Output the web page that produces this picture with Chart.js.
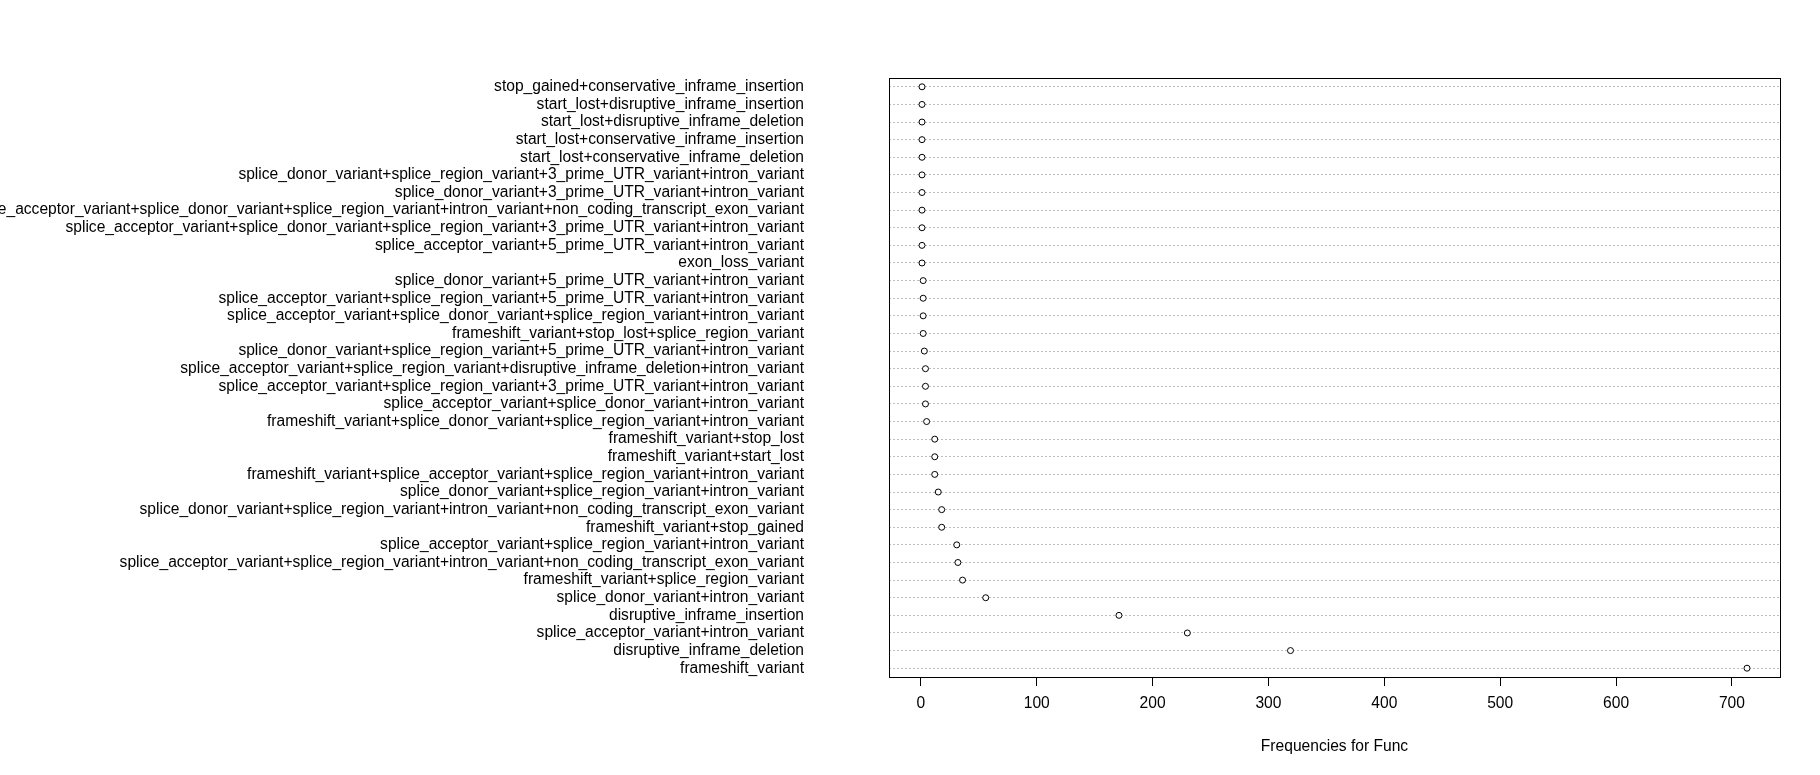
<!DOCTYPE html>
<html>
<head>
<meta charset="utf-8">
<script src="https://cdn.jsdelivr.net/npm/chart.js@4.4.1/dist/chart.umd.min.js"></script>
<style>
  html, body { margin: 0; padding: 0; background: #ffffff; }
  #wrap { position: relative; width: 1820px; height: 775px; }
</style>
</head>
<body>
<div id="wrap"><canvas id="c" width="1820" height="775"></canvas></div>
<script>
const categories = [
  "stop_gained+conservative_inframe_insertion",
  "start_lost+disruptive_inframe_insertion",
  "start_lost+disruptive_inframe_deletion",
  "start_lost+conservative_inframe_insertion",
  "start_lost+conservative_inframe_deletion",
  "splice_donor_variant+splice_region_variant+3_prime_UTR_variant+intron_variant",
  "splice_donor_variant+3_prime_UTR_variant+intron_variant",
  "splice_acceptor_variant+splice_donor_variant+splice_region_variant+intron_variant+non_coding_transcript_exon_variant",
  "splice_acceptor_variant+splice_donor_variant+splice_region_variant+3_prime_UTR_variant+intron_variant",
  "splice_acceptor_variant+5_prime_UTR_variant+intron_variant",
  "exon_loss_variant",
  "splice_donor_variant+5_prime_UTR_variant+intron_variant",
  "splice_acceptor_variant+splice_region_variant+5_prime_UTR_variant+intron_variant",
  "splice_acceptor_variant+splice_donor_variant+splice_region_variant+intron_variant",
  "frameshift_variant+stop_lost+splice_region_variant",
  "splice_donor_variant+splice_region_variant+5_prime_UTR_variant+intron_variant",
  "splice_acceptor_variant+splice_region_variant+disruptive_inframe_deletion+intron_variant",
  "splice_acceptor_variant+splice_region_variant+3_prime_UTR_variant+intron_variant",
  "splice_acceptor_variant+splice_donor_variant+intron_variant",
  "frameshift_variant+splice_donor_variant+splice_region_variant+intron_variant",
  "frameshift_variant+stop_lost",
  "frameshift_variant+start_lost",
  "frameshift_variant+splice_acceptor_variant+splice_region_variant+intron_variant",
  "splice_donor_variant+splice_region_variant+intron_variant",
  "splice_donor_variant+splice_region_variant+intron_variant+non_coding_transcript_exon_variant",
  "frameshift_variant+stop_gained",
  "splice_acceptor_variant+splice_region_variant+intron_variant",
  "splice_acceptor_variant+splice_region_variant+intron_variant+non_coding_transcript_exon_variant",
  "frameshift_variant+splice_region_variant",
  "splice_donor_variant+intron_variant",
  "disruptive_inframe_insertion",
  "splice_acceptor_variant+intron_variant",
  "disruptive_inframe_deletion",
  "frameshift_variant"
];
const frequencies = [
  1, 1, 1, 1, 1, 1, 1, 1, 1, 1, 1,
  2, 2, 2, 2,
  3,
  4, 4, 4,
  5,
  12, 12, 12,
  15,
  18, 18,
  31, 32, 36, 56,
  171, 230, 319, 713
];
const xTicks = [0, 100, 200, 300, 400, 500, 600, 700];
const xTitle = "Frequencies for Func";

const FONT = "'Liberation Sans', Arial, sans-serif";
const dataMin = Math.min(...frequencies), dataMax = Math.max(...frequencies);
const ext = (dataMax - dataMin) * 0.04;

const boxPlugin = {
  id: 'box',
  afterDraw(chart) {
    const a = chart.chartArea, ctx = chart.ctx;
    ctx.save();
    ctx.strokeStyle = '#000';
    ctx.lineWidth = 1;
    ctx.strokeRect(Math.round(a.left) + 0.5, Math.round(a.top) + 0.5,
                   Math.round(a.right - a.left), Math.round(a.bottom - a.top));
    ctx.restore();
  }
};

new Chart(document.getElementById('c'), {
  type: 'line',
  data: {
    labels: categories,
    datasets: [{
      data: frequencies,
      showLine: false,
      pointStyle: 'circle',
      pointRadius: 3,
      pointBorderWidth: 1,
      pointBorderColor: '#000',
      pointBackgroundColor: '#fff',
      pointHoverRadius: 3
    }]
  },
  plugins: [boxPlugin],
  options: {
    indexAxis: 'y',
    responsive: false,
    animation: false,
    devicePixelRatio: 1,
    layout: { padding: { top: 78, right: 40, left: 0, bottom: 0 } },
    plugins: { legend: { display: false }, tooltip: { enabled: false } },
    scales: {
      y: {
        type: 'category',
        offset: true,
        afterFit(scale) {
          scale.width = 889;
          scale.paddingTop = 0;
          scale.paddingBottom = 0;
        },
        border: { display: false, dash: [2, 2] },
        grid: {
          offset: false,
          drawTicks: false,
          tickLength: 0,
          color: '#bdbdbd',
          lineWidth: 1
        },
        ticks: {
          autoSkip: false,
          padding: 85,
          color: '#000',
          font: { family: FONT, size: 15.6 }
        }
      },
      x: {
        type: 'linear',
        min: dataMin - ext,
        max: dataMax + ext,
        afterBuildTicks(scale) { scale.ticks = xTicks.map(v => ({ value: v })); },
        afterFit(scale) { scale.height = 98; },
        border: { display: false },
        grid: {
          drawOnChartArea: false,
          drawTicks: true,
          tickLength: 9,
          color: '#000',
          lineWidth: 1
        },
        ticks: {
          padding: 8.5,
          color: '#000',
          maxRotation: 0,
          font: { family: FONT, size: 15.6 }
        },
        title: {
          display: true,
          text: xTitle,
          color: '#000',
          padding: { top: 0, bottom: 19 },
          font: { family: FONT, size: 15.6 }
        }
      }
    }
  }
});
</script>
</body>
</html>
